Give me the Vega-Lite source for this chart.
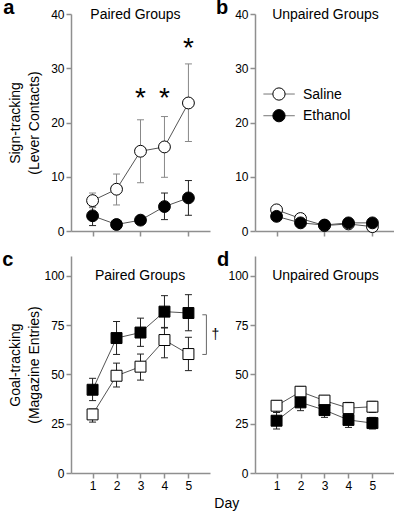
{
  "$schema": "https://vega.github.io/schema/vega-lite/v6.json",
  "padding": {"left": 2, "top": -2, "right": 0, "bottom": 0},
  "config": {
    "font": "Liberation Sans",
    "view": {"stroke": null},
    "axis": {
      "domainColor": "#8f8f8f", "domainWidth": 1.5,
      "tickColor": "#8f8f8f", "tickWidth": 1.5, "tickSize": 5,
      "labelFontSize": 12, "labelColor": "black", "labelFont": "Liberation Sans", "labelPadding": 2, "labelOverlap": false,
      "grid": false,
      "titleFontSize": 14, "titleFontWeight": "normal", "titleFont": "Liberation Sans", "titleColor": "black", "titleLineHeight": 19
    }
  },
  "datasets": {
    "main": [
      {"p": "a", "g": "Saline", "day": 1, "m": 5.6, "lo": 4.3, "hi": 7.0},
      {"p": "a", "g": "Saline", "day": 2, "m": 7.7, "lo": 4.8, "hi": 10.5},
      {"p": "a", "g": "Saline", "day": 3, "m": 14.7, "lo": 8.9, "hi": 20.5},
      {"p": "a", "g": "Saline", "day": 4, "m": 15.5, "lo": 9.9, "hi": 21.1},
      {"p": "a", "g": "Saline", "day": 5, "m": 23.6, "lo": 16.5, "hi": 30.8},
      {"p": "a", "g": "Ethanol", "day": 1, "m": 2.8, "lo": 1.0, "hi": 4.4},
      {"p": "a", "g": "Ethanol", "day": 2, "m": 1.2, "lo": 0.5, "hi": 2.0},
      {"p": "a", "g": "Ethanol", "day": 3, "m": 2.0, "lo": 1.2, "hi": 2.8},
      {"p": "a", "g": "Ethanol", "day": 4, "m": 4.5, "lo": 2.1, "hi": 7.0},
      {"p": "a", "g": "Ethanol", "day": 5, "m": 6.1, "lo": 2.9, "hi": 9.3},
      {"p": "b", "g": "Saline", "day": 1, "m": 3.9, "lo": 3.2, "hi": 4.6},
      {"p": "b", "g": "Saline", "day": 2, "m": 2.3, "lo": 1.8, "hi": 2.8},
      {"p": "b", "g": "Saline", "day": 3, "m": 1.0, "lo": 0.7, "hi": 1.3},
      {"p": "b", "g": "Saline", "day": 4, "m": 1.3, "lo": 1.0, "hi": 1.6},
      {"p": "b", "g": "Saline", "day": 5, "m": 0.8, "lo": 0.5, "hi": 1.1},
      {"p": "b", "g": "Ethanol", "day": 1, "m": 2.7, "lo": 2.2, "hi": 3.2},
      {"p": "b", "g": "Ethanol", "day": 2, "m": 1.5, "lo": 1.1, "hi": 1.9},
      {"p": "b", "g": "Ethanol", "day": 3, "m": 1.1, "lo": 0.8, "hi": 1.4},
      {"p": "b", "g": "Ethanol", "day": 4, "m": 1.5, "lo": 1.2, "hi": 1.8},
      {"p": "b", "g": "Ethanol", "day": 5, "m": 1.5, "lo": 1.1, "hi": 1.9},
      {"p": "c", "g": "Saline", "day": 1, "m": 29.7, "lo": 25.8, "hi": 32.4},
      {"p": "c", "g": "Saline", "day": 2, "m": 49.3, "lo": 43.6, "hi": 55.7},
      {"p": "c", "g": "Saline", "day": 3, "m": 53.9, "lo": 47.1, "hi": 60.3},
      {"p": "c", "g": "Saline", "day": 4, "m": 67.4, "lo": 58.4, "hi": 73.5},
      {"p": "c", "g": "Saline", "day": 5, "m": 60.3, "lo": 51.9, "hi": 68.8},
      {"p": "c", "g": "Ethanol", "day": 1, "m": 42.2, "lo": 36.7, "hi": 48.0},
      {"p": "c", "g": "Ethanol", "day": 2, "m": 68.4, "lo": 60.1, "hi": 76.8},
      {"p": "c", "g": "Ethanol", "day": 3, "m": 71.2, "lo": 64.2, "hi": 78.5},
      {"p": "c", "g": "Ethanol", "day": 4, "m": 81.8, "lo": 73.8, "hi": 89.9},
      {"p": "c", "g": "Ethanol", "day": 5, "m": 81.1, "lo": 72.1, "hi": 90.4},
      {"p": "d", "g": "Saline", "day": 1, "m": 34.1, "lo": 30.7, "hi": 36.7},
      {"p": "d", "g": "Saline", "day": 2, "m": 41.2, "lo": 39.2, "hi": 43.8},
      {"p": "d", "g": "Saline", "day": 3, "m": 36.7, "lo": 35.3, "hi": 39.2},
      {"p": "d", "g": "Saline", "day": 4, "m": 32.9, "lo": 30.7, "hi": 35.8},
      {"p": "d", "g": "Saline", "day": 5, "m": 33.6, "lo": 30.7, "hi": 36.3},
      {"p": "d", "g": "Ethanol", "day": 1, "m": 26.5, "lo": 22.3, "hi": 30.7},
      {"p": "d", "g": "Ethanol", "day": 2, "m": 35.8, "lo": 31.6, "hi": 39.2},
      {"p": "d", "g": "Ethanol", "day": 3, "m": 31.9, "lo": 28.2, "hi": 35.0},
      {"p": "d", "g": "Ethanol", "day": 4, "m": 26.9, "lo": 23.1, "hi": 30.2},
      {"p": "d", "g": "Ethanol", "day": 5, "m": 25.3, "lo": 22.3, "hi": 28.2}
    ],
    "ann": [
      {"p": "a", "k": "letter", "tx": -2.5, "ty": 40.0, "t": "a"},
      {"p": "b", "k": "letter", "tx": -1.27, "ty": 40.0, "t": "b"},
      {"p": "c", "k": "letter", "tx": -2.54, "ty": 104.9, "t": "c"},
      {"p": "d", "k": "letter", "tx": -1.23, "ty": 104.9, "t": "d"},
      {"p": "a", "k": "title", "tx": 2.79, "ty": 39.1, "t": "Paired Groups"},
      {"p": "b", "k": "title", "tx": 3.04, "ty": 39.0, "t": "Unpaired Groups"},
      {"p": "c", "k": "title", "tx": 2.98, "ty": 98.0, "t": "Paired Groups"},
      {"p": "d", "k": "title", "tx": 3.04, "ty": 98.0, "t": "Unpaired Groups"},
      {"p": "a", "k": "star", "tx": 3, "ty": 22.8, "t": "*"},
      {"p": "a", "k": "star", "tx": 4, "ty": 22.9, "t": "*"},
      {"p": "a", "k": "star", "tx": 5, "ty": 32.1, "t": "*"},
      {"p": "c", "k": "dagger", "tx": 6.125, "ty": 67.9, "t": "†"},
      {"p": "d", "k": "day", "tx": -1.08, "ty": -17.7, "t": "Day"},
      {"p": "b", "k": "leg", "tx": 2.1, "ty": 24.3, "t": "Saline"},
      {"p": "b", "k": "leg", "tx": 2.1, "ty": 20.5, "t": "Ethanol"}
    ],
    "legend": [
      {"g": "Saline", "lx": 1.1, "x1": 0.45, "x2": 1.76, "ly": 25.25},
      {"g": "Ethanol", "lx": 1.1, "x1": 0.45, "x2": 1.76, "ly": 21.25}
    ],
    "bracket": [
      {"x1": 5.58, "x2": 5.75, "y1": 80.2, "y2": 80.2},
      {"x1": 5.58, "x2": 5.75, "y1": 60.1, "y2": 60.1},
      {"x1": 5.75, "x2": 5.75, "y1": 60.1, "y2": 80.2}
    ]
  },
  "resolve": {"scale": {"x": "independent", "y": "independent"}},
  "columns": 2,
  "spacing": {"row": 25, "column": 45},
  "bounds": "flush",
  "concat": [
    {
      "width": 139, "height": 217,
      "layer": [
        {"data": {"name": "main"}, "transform": [{"filter": "datum.p==='a'"}],
         "mark": {"type": "rule", "strokeWidth": 1},
         "encoding": {
           "x": {"field": "day", "type": "quantitative", "scale": {"domain": [0.1, 5.9], "nice": false, "zero": false}, "axis": {"values": [1, 2, 3, 4, 5], "labels": false}, "title": null},
           "y": {"field": "lo", "type": "quantitative", "scale": {"domain": [0, 40], "nice": false}, "axis": {"values": [0, 10, 20, 30, 40], "titlePadding": 9}, "title": ["Sign-tracking", "(Lever Contacts)"]},
           "y2": {"field": "hi"},
           "stroke": {"condition": {"test": "datum.g==='Saline'", "value": "#888"}, "value": "#222"}}},
        {"data": {"name": "main"}, "transform": [{"filter": "datum.p==='a'"}],
         "mark": {"type": "tick", "orient": "horizontal", "size": 7, "thickness": 1, "opacity": 1},
         "encoding": {"x": {"field": "day", "type": "quantitative"}, "y": {"field": "hi", "type": "quantitative"},
           "color": {"condition": {"test": "datum.g==='Saline'", "value": "#888"}, "value": "#222"}}},
        {"data": {"name": "main"}, "transform": [{"filter": "datum.p==='a'"}],
         "mark": {"type": "tick", "orient": "horizontal", "size": 7, "thickness": 1, "opacity": 1},
         "encoding": {"x": {"field": "day", "type": "quantitative"}, "y": {"field": "lo", "type": "quantitative"},
           "color": {"condition": {"test": "datum.g==='Saline'", "value": "#888"}, "value": "#222"}}},
        {"data": {"name": "main"}, "transform": [{"filter": "datum.p==='a'"}],
         "mark": {"type": "line", "stroke": "#555", "strokeWidth": 1},
         "encoding": {"x": {"field": "day", "type": "quantitative"}, "y": {"field": "m", "type": "quantitative"}, "detail": {"field": "g"}}},
        {"data": {"name": "main"}, "transform": [{"filter": "datum.p==='a'"}],
         "mark": {"type": "point", "shape": "circle", "filled": true, "size": 140, "stroke": "black", "strokeWidth": 1, "opacity": 1},
         "encoding": {"x": {"field": "day", "type": "quantitative"}, "y": {"field": "m", "type": "quantitative"},
           "fill": {"field": "g", "type": "nominal", "scale": {"domain": ["Saline", "Ethanol"], "range": ["white", "black"]}, "legend": null}}},
        {"data": {"name": "ann"}, "transform": [{"filter": "datum.p==='a' && datum.k==='letter'"}],
         "mark": {"type": "text", "fontSize": 20, "fontWeight": "bold", "align": "center", "baseline": "alphabetic", "clip": false},
         "encoding": {"x": {"field": "tx", "type": "quantitative"}, "y": {"field": "ty", "type": "quantitative"}, "text": {"field": "t"}}},
        {"data": {"name": "ann"}, "transform": [{"filter": "datum.p==='a' && datum.k==='title'"}],
         "mark": {"type": "text", "fontSize": 14, "align": "center", "baseline": "alphabetic"},
         "encoding": {"x": {"field": "tx", "type": "quantitative"}, "y": {"field": "ty", "type": "quantitative"}, "text": {"field": "t"}}},
        {"data": {"name": "ann"}, "transform": [{"filter": "datum.p==='a' && datum.k==='star'"}],
         "mark": {"type": "text", "fontSize": 28, "align": "center", "baseline": "alphabetic"},
         "encoding": {"x": {"field": "tx", "type": "quantitative"}, "y": {"field": "ty", "type": "quantitative"}, "text": {"field": "t"}}}
      ]
    },
    {
      "width": 139, "height": 217,
      "layer": [
        {"data": {"name": "main"}, "transform": [{"filter": "datum.p==='b'"}],
         "mark": {"type": "rule", "strokeWidth": 1},
         "encoding": {
           "x": {"field": "day", "type": "quantitative", "scale": {"domain": [0.1, 5.9], "nice": false, "zero": false}, "axis": {"values": [1, 2, 3, 4, 5], "labels": false}, "title": null},
           "y": {"field": "lo", "type": "quantitative", "scale": {"domain": [0, 40], "nice": false}, "axis": {"values": [0, 10, 20, 30, 40]}, "title": null},
           "y2": {"field": "hi"},
           "stroke": {"condition": {"test": "datum.g==='Saline'", "value": "#888"}, "value": "#222"}}},
        {"data": {"name": "main"}, "transform": [{"filter": "datum.p==='b'"}],
         "mark": {"type": "line", "stroke": "#555", "strokeWidth": 1},
         "encoding": {"x": {"field": "day", "type": "quantitative"}, "y": {"field": "m", "type": "quantitative"}, "detail": {"field": "g"}}},
        {"data": {"name": "main"}, "transform": [{"filter": "datum.p==='b'"}],
         "mark": {"type": "point", "shape": "circle", "filled": true, "size": 140, "stroke": "black", "strokeWidth": 1, "opacity": 1},
         "encoding": {"x": {"field": "day", "type": "quantitative"}, "y": {"field": "m", "type": "quantitative"},
           "fill": {"field": "g", "type": "nominal", "scale": {"domain": ["Saline", "Ethanol"], "range": ["white", "black"]}, "legend": null}}},
        {"data": {"name": "legend"},
         "mark": {"type": "rule", "stroke": "#777", "strokeWidth": 1},
         "encoding": {"x": {"field": "x1", "type": "quantitative"}, "x2": {"field": "x2"}, "y": {"field": "ly", "type": "quantitative"}}},
        {"data": {"name": "legend"},
         "mark": {"type": "point", "shape": "circle", "filled": true, "size": 150, "stroke": "black", "strokeWidth": 1, "opacity": 1},
         "encoding": {"x": {"field": "lx", "type": "quantitative"}, "y": {"field": "ly", "type": "quantitative"},
           "fill": {"field": "g", "type": "nominal", "scale": {"domain": ["Saline", "Ethanol"], "range": ["white", "black"]}, "legend": null}}},
        {"data": {"name": "ann"}, "transform": [{"filter": "datum.p==='b' && datum.k==='leg'"}],
         "mark": {"type": "text", "fontSize": 14, "align": "left", "baseline": "alphabetic"},
         "encoding": {"x": {"field": "tx", "type": "quantitative"}, "y": {"field": "ty", "type": "quantitative"}, "text": {"field": "t"}}},
        {"data": {"name": "ann"}, "transform": [{"filter": "datum.p==='b' && datum.k==='letter'"}],
         "mark": {"type": "text", "fontSize": 20, "fontWeight": "bold", "align": "center", "baseline": "alphabetic"},
         "encoding": {"x": {"field": "tx", "type": "quantitative"}, "y": {"field": "ty", "type": "quantitative"}, "text": {"field": "t"}}},
        {"data": {"name": "ann"}, "transform": [{"filter": "datum.p==='b' && datum.k==='title'"}],
         "mark": {"type": "text", "fontSize": 14, "align": "center", "baseline": "alphabetic"},
         "encoding": {"x": {"field": "tx", "type": "quantitative"}, "y": {"field": "ty", "type": "quantitative"}, "text": {"field": "t"}}}
      ]
    },
    {
      "width": 139, "height": 217,
      "layer": [
        {"data": {"name": "main"}, "transform": [{"filter": "datum.p==='c'"}],
         "mark": {"type": "rule", "strokeWidth": 1, "stroke": "#222"},
         "encoding": {
           "x": {"field": "day", "type": "quantitative", "scale": {"domain": [0.1, 5.9], "nice": false, "zero": false}, "axis": {"values": [1, 2, 3, 4, 5], "tickCount": 5, "labelOverlap": false, "labelBound": false, "labelFlush": false, "labelSeparation": 0}, "title": null},
           "y": {"field": "lo", "type": "quantitative", "scale": {"domain": [0, 110], "nice": false}, "axis": {"values": [0, 25, 50, 75, 100], "titlePadding": 2}, "title": ["Goal-tracking", "(Magazine Entries)"]},
           "y2": {"field": "hi"}}},
        {"data": {"name": "main"}, "transform": [{"filter": "datum.p==='c'"}],
         "mark": {"type": "tick", "orient": "horizontal", "size": 7, "thickness": 1, "opacity": 1, "color": "#222"},
         "encoding": {"x": {"field": "day", "type": "quantitative"}, "y": {"field": "hi", "type": "quantitative"}}},
        {"data": {"name": "main"}, "transform": [{"filter": "datum.p==='c'"}],
         "mark": {"type": "tick", "orient": "horizontal", "size": 7, "thickness": 1, "opacity": 1, "color": "#222"},
         "encoding": {"x": {"field": "day", "type": "quantitative"}, "y": {"field": "lo", "type": "quantitative"}}},
        {"data": {"name": "main"}, "transform": [{"filter": "datum.p==='c'"}],
         "mark": {"type": "line", "stroke": "#555", "strokeWidth": 1},
         "encoding": {"x": {"field": "day", "type": "quantitative"}, "y": {"field": "m", "type": "quantitative"}, "detail": {"field": "g"}}},
        {"data": {"name": "main"}, "transform": [{"filter": "datum.p==='c'"}],
         "mark": {"type": "point", "shape": "square", "filled": true, "size": 120, "stroke": "black", "strokeWidth": 1, "opacity": 1},
         "encoding": {"x": {"field": "day", "type": "quantitative"}, "y": {"field": "m", "type": "quantitative"},
           "fill": {"field": "g", "type": "nominal", "scale": {"domain": ["Saline", "Ethanol"], "range": ["white", "black"]}, "legend": null}}},
        {"data": {"name": "bracket"},
         "mark": {"type": "rule", "stroke": "#666", "strokeWidth": 1, "clip": false},
         "encoding": {"x": {"field": "x1", "type": "quantitative"}, "x2": {"field": "x2"}, "y": {"field": "y1", "type": "quantitative"}, "y2": {"field": "y2"}}},
        {"data": {"name": "ann"}, "transform": [{"filter": "datum.p==='c' && datum.k==='dagger'"}],
         "mark": {"type": "text", "fontSize": 14, "align": "center", "baseline": "alphabetic"},
         "encoding": {"x": {"field": "tx", "type": "quantitative"}, "y": {"field": "ty", "type": "quantitative"}, "text": {"field": "t"}}},
        {"data": {"name": "ann"}, "transform": [{"filter": "datum.p==='c' && datum.k==='letter'"}],
         "mark": {"type": "text", "fontSize": 20, "fontWeight": "bold", "align": "center", "baseline": "alphabetic"},
         "encoding": {"x": {"field": "tx", "type": "quantitative"}, "y": {"field": "ty", "type": "quantitative"}, "text": {"field": "t"}}},
        {"data": {"name": "ann"}, "transform": [{"filter": "datum.p==='c' && datum.k==='title'"}],
         "mark": {"type": "text", "fontSize": 14, "align": "center", "baseline": "alphabetic"},
         "encoding": {"x": {"field": "tx", "type": "quantitative"}, "y": {"field": "ty", "type": "quantitative"}, "text": {"field": "t"}}}
      ]
    },
    {
      "width": 139, "height": 217,
      "layer": [
        {"data": {"name": "main"}, "transform": [{"filter": "datum.p==='d'"}],
         "mark": {"type": "rule", "strokeWidth": 1, "stroke": "#222"},
         "encoding": {
           "x": {"field": "day", "type": "quantitative", "scale": {"domain": [0.1, 5.9], "nice": false, "zero": false}, "axis": {"values": [1, 2, 3, 4, 5], "tickCount": 5, "labelOverlap": false, "labelBound": false, "labelFlush": false, "labelSeparation": 0}, "title": null},
           "y": {"field": "lo", "type": "quantitative", "scale": {"domain": [0, 110], "nice": false}, "axis": {"values": [0, 25, 50, 75, 100]}, "title": null},
           "y2": {"field": "hi"}}},
        {"data": {"name": "main"}, "transform": [{"filter": "datum.p==='d'"}],
         "mark": {"type": "tick", "orient": "horizontal", "size": 7, "thickness": 1, "opacity": 1, "color": "#222"},
         "encoding": {"x": {"field": "day", "type": "quantitative"}, "y": {"field": "hi", "type": "quantitative"}}},
        {"data": {"name": "main"}, "transform": [{"filter": "datum.p==='d'"}],
         "mark": {"type": "tick", "orient": "horizontal", "size": 7, "thickness": 1, "opacity": 1, "color": "#222"},
         "encoding": {"x": {"field": "day", "type": "quantitative"}, "y": {"field": "lo", "type": "quantitative"}}},
        {"data": {"name": "main"}, "transform": [{"filter": "datum.p==='d'"}],
         "mark": {"type": "line", "stroke": "#555", "strokeWidth": 1},
         "encoding": {"x": {"field": "day", "type": "quantitative"}, "y": {"field": "m", "type": "quantitative"}, "detail": {"field": "g"}}},
        {"data": {"name": "main"}, "transform": [{"filter": "datum.p==='d'"}],
         "mark": {"type": "point", "shape": "square", "filled": true, "size": 120, "stroke": "black", "strokeWidth": 1, "opacity": 1},
         "encoding": {"x": {"field": "day", "type": "quantitative"}, "y": {"field": "m", "type": "quantitative"},
           "fill": {"field": "g", "type": "nominal", "scale": {"domain": ["Saline", "Ethanol"], "range": ["white", "black"]}, "legend": null}}},
        {"data": {"name": "ann"}, "transform": [{"filter": "datum.p==='d' && datum.k==='day'"}],
         "mark": {"type": "text", "fontSize": 14, "align": "center", "baseline": "alphabetic"},
         "encoding": {"x": {"field": "tx", "type": "quantitative"}, "y": {"field": "ty", "type": "quantitative"}, "text": {"field": "t"}}},
        {"data": {"name": "ann"}, "transform": [{"filter": "datum.p==='d' && datum.k==='letter'"}],
         "mark": {"type": "text", "fontSize": 20, "fontWeight": "bold", "align": "center", "baseline": "alphabetic"},
         "encoding": {"x": {"field": "tx", "type": "quantitative"}, "y": {"field": "ty", "type": "quantitative"}, "text": {"field": "t"}}},
        {"data": {"name": "ann"}, "transform": [{"filter": "datum.p==='d' && datum.k==='title'"}],
         "mark": {"type": "text", "fontSize": 14, "align": "center", "baseline": "alphabetic"},
         "encoding": {"x": {"field": "tx", "type": "quantitative"}, "y": {"field": "ty", "type": "quantitative"}, "text": {"field": "t"}}}
      ]
    }
  ]
}
